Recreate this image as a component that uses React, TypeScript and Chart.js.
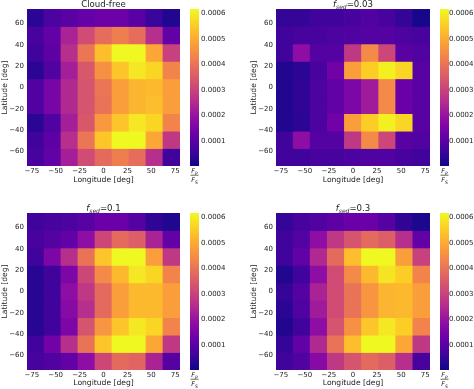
import React, { useEffect, useRef } from 'react';
import { Chart, registerables } from 'chart.js';

Chart.register(...registerables);

// Cell centres (longitude) and row edges (latitude), degrees
const lonCenters = [-71.1, -53.3, -35.6, -17.8, 0, 17.8, 35.6, 53.3, 71.1];
const latEdges = [73.6, 57.2, 40.9, 24.5, 8.2, -8.2, -24.5, -40.9, -57.2, -73.6];
const lonTicks = [-75, -50, -25, 0, 25, 50, 75];
const latTicks = [-60, -40, -20, 0, 20, 40, 60];
// colour bar, values in units of 1e-4 (F_P / F_S)
const cbTicks = [1, 2, 3, 4, 5, 6];
const cbTickLabels = ['0.0001', '0.0002', '0.0003', '0.0004', '0.0005', '0.0006'];
const cbMin = 0.015;
const cbMax = 6.18;

// Rows from top (north) to bottom (south); values ×1e-4
const cloudFree = [
  [0.37, 0.80, 0.99, 1.17, 1.30, 1.30, 0.99, 0.56, 0.25],
  [0.74, 1.11, 2.34, 3.21, 3.89, 4.20, 3.89, 2.59, 1.11],
  [0.62, 1.05, 2.59, 4.07, 5.31, 6.17, 6.17, 4.94, 2.96],
  [0.37, 0.86, 2.22, 3.46, 4.57, 5.43, 5.92, 5.68, 4.32],
  [0.86, 1.48, 2.47, 3.39, 4.07, 4.81, 5.18, 5.24, 4.81],
  [0.86, 1.48, 2.47, 3.39, 4.01, 4.81, 5.18, 5.31, 4.81],
  [0.37, 0.86, 2.22, 3.46, 4.69, 5.43, 5.92, 5.68, 4.32],
  [0.62, 1.05, 2.59, 4.07, 5.43, 6.17, 6.17, 4.94, 2.78],
  [0.74, 1.11, 2.22, 3.21, 3.83, 4.20, 3.89, 2.59, 0.62],
];
const fsed003 = [
  [0.49, 0.49, 0.62, 0.62, 0.74, 0.86, 0.74, 0.49, 0.12],
  [0.62, 0.74, 0.74, 0.80, 0.86, 0.93, 0.93, 0.80, 0.74],
  [0.62, 1.85, 0.93, 0.93, 2.78, 4.44, 3.09, 0.99, 0.86],
  [0.25, 0.37, 0.74, 1.36, 4.81, 5.55, 6.05, 5.68, 0.99],
  [0.25, 0.43, 0.80, 1.11, 1.54, 2.16, 4.44, 1.23, 0.99],
  [0.25, 0.43, 0.80, 1.11, 1.54, 2.16, 4.44, 1.23, 0.99],
  [0.25, 0.37, 0.80, 1.36, 4.81, 5.55, 6.05, 5.68, 0.99],
  [0.62, 1.85, 0.93, 0.93, 2.78, 4.44, 3.09, 0.99, 0.86],
  [0.62, 0.62, 0.74, 0.74, 0.80, 0.86, 0.86, 0.74, 0.62],
];
const fsed01 = [
  [0.62, 0.74, 0.80, 0.99, 1.23, 1.23, 0.93, 0.43, 0.25],
  [0.74, 0.93, 1.11, 1.85, 3.09, 3.83, 3.58, 2.34, 1.11],
  [0.62, 1.54, 2.59, 4.01, 5.43, 6.17, 6.17, 4.81, 2.78],
  [0.31, 0.62, 1.54, 3.09, 4.44, 5.24, 5.92, 5.68, 4.32],
  [0.31, 0.62, 1.85, 2.78, 3.83, 4.81, 5.24, 5.24, 4.81],
  [0.31, 0.62, 1.73, 2.59, 3.83, 4.81, 5.24, 5.24, 4.81],
  [0.31, 0.62, 1.54, 3.39, 4.63, 5.43, 5.92, 5.68, 4.32],
  [0.62, 1.36, 2.59, 4.01, 5.43, 6.17, 6.17, 4.94, 2.78],
  [0.74, 0.86, 1.11, 1.85, 3.09, 3.83, 3.70, 2.34, 0.93],
];
const fsed03 = [
  [0.49, 0.74, 0.86, 1.05, 1.23, 1.23, 0.93, 0.43, 0.19],
  [0.62, 0.93, 1.85, 2.78, 3.39, 3.83, 3.58, 2.59, 1.11],
  [0.62, 1.11, 2.47, 3.83, 5.31, 6.17, 6.17, 4.81, 2.96],
  [0.25, 0.62, 1.85, 3.21, 4.44, 5.24, 5.86, 5.55, 4.32],
  [0.49, 0.93, 2.34, 3.21, 4.01, 4.63, 5.18, 5.24, 4.81],
  [0.37, 0.86, 2.16, 3.21, 4.01, 4.63, 5.18, 5.24, 4.81],
  [0.25, 0.62, 1.85, 3.39, 4.57, 5.43, 5.92, 5.55, 4.32],
  [0.49, 1.11, 2.47, 4.01, 5.31, 6.17, 6.17, 4.94, 2.78],
  [0.62, 0.86, 1.73, 2.78, 3.39, 3.83, 3.58, 2.59, 0.74],
];

const plasmaStops = [
  [13, 8, 135], [65, 4, 157], [106, 0, 168], [143, 13, 164], [177, 42, 144],
  [204, 71, 120], [225, 100, 98], [242, 132, 75], [252, 166, 54], [252, 206, 37], [240, 249, 33],
];
function plasma(t: number): string {
  const c = Math.max(0, Math.min(1, t)) * 10;
  const i = Math.min(9, Math.floor(c));
  const f = c - i;
  const a = plasmaStops[i], b = plasmaStops[i + 1];
  const m = (k: number) => Math.round(a[k] + (b[k] - a[k]) * f);
  return `rgb(${m(0)},${m(1)},${m(2)})`;
}

const FONT = '"DejaVu Sans", sans-serif';
const TXT = '#222';

type PanelDef = {
  values: number[][];
  title: string;
  sub?: string;
  suffix?: string;
  left: number; top: number; w: number; h: number;
  yW: number; yTitlePad: number; cbW: number; cbPad: number;
  padTop: number; xH: number; xTitlePad: number;
};

const panels: PanelDef[] = [
  { values: cloudFree, title: 'Cloud-free', left: 0, top: 0, w: 237, h: 195, yW: 27, yTitlePad: 0, cbW: 57, cbPad: 21, padTop: 9, xH: 29, xTitlePad: 10.4 },
  { values: fsed003, title: 'f', sub: 'sed', suffix: '=0.03', left: 237, top: 0, w: 237, h: 195, yW: 39, yTitlePad: 12.4, cbW: 44, cbPad: 19, padTop: 9, xH: 29, xTitlePad: 10.4 },
  { values: fsed01, title: 'f', sub: 'sed', suffix: '=0.1', left: 0, top: 195, w: 237, h: 194, yW: 27, yTitlePad: 0, cbW: 57, cbPad: 21, padTop: 18, xH: 19, xTitlePad: 1.9 },
  { values: fsed03, title: 'f', sub: 'sed', suffix: '=0.3', left: 237, top: 195, w: 237, h: 194, yW: 39, yTitlePad: 12.4, cbW: 44, cbPad: 19, padTop: 18, xH: 19, xTitlePad: 1.9 },
];

const fmtMinus = (v: number) => (v < 0 ? '\u2212' + Math.abs(v) : String(v));

const noPad = (s: any) => {
  s.paddingTop = 0;
  s.paddingBottom = 0;
  s.paddingLeft = 0;
  s.paddingRight = 0;
};

function makeDecor(p: PanelDef) {
  return {
    id: 'decor',
    afterDraw(chart: any) {
      const { ctx, chartArea } = chart;
      const cb = chart.scales.cb;
      const x0 = chartArea.right + 10;
      const yTop = cb.getPixelForValue(cbMax);
      const yBot = cb.getPixelForValue(cbMin);
      ctx.save();
      const g = ctx.createLinearGradient(0, yBot, 0, yTop);
      plasmaStops.forEach((c, i) => g.addColorStop(i / 10, `rgb(${c[0]},${c[1]},${c[2]})`));
      ctx.fillStyle = g;
      ctx.fillRect(x0, yTop, 9, yBot - yTop);

      // F_P / F_S label under the colour bar
      ctx.fillStyle = TXT;
      ctx.strokeStyle = TXT;
      ctx.textBaseline = 'alphabetic';
      ctx.textAlign = 'left';
      const drawFS = (sub: string, base: number) => {
        ctx.font = `italic 6.5px ${FONT}`;
        const wF = ctx.measureText('F').width;
        ctx.font = `italic 4.6px ${FONT}`;
        const wS = ctx.measureText(sub).width;
        const tot = wF + wS;
        const sx = x0 + 4.5 - tot / 2;
        ctx.font = `italic 6.5px ${FONT}`;
        ctx.fillText('F', sx, base);
        ctx.font = `italic 4.6px ${FONT}`;
        ctx.fillText(sub, sx + wF, base + 1.5);
      };
      const bot = chartArea.bottom;
      drawFS('P', bot + 7);
      ctx.lineWidth = 0.7;
      ctx.beginPath();
      ctx.moveTo(x0 + 0.5, bot + 9.2);
      ctx.lineTo(x0 + 8.5, bot + 9.2);
      ctx.stroke();
      drawFS('S', bot + 16);

      // title
      const cx = (chartArea.left + chartArea.right) / 2;
      const base = chartArea.top - 2;
      ctx.fillStyle = TXT;
      if (!p.sub) {
        ctx.font = `8.6px ${FONT}`;
        ctx.textAlign = 'center';
        ctx.fillText(p.title, cx, base);
      } else {
        ctx.font = `italic 8.6px ${FONT}`;
        const w1 = ctx.measureText(p.title).width;
        ctx.font = `italic 6px ${FONT}`;
        const w2 = ctx.measureText(p.sub).width;
        ctx.font = `8.6px ${FONT}`;
        const w3 = ctx.measureText(p.suffix || '').width;
        let sx = cx - (w1 + w2 + w3) / 2;
        ctx.textAlign = 'left';
        ctx.font = `italic 8.6px ${FONT}`;
        ctx.fillText(p.title, sx, base);
        sx += w1;
        ctx.font = `italic 6px ${FONT}`;
        ctx.fillText(p.sub, sx, base + 2);
        sx += w2;
        ctx.font = `8.6px ${FONT}`;
        ctx.fillText(p.suffix || '', sx, base);
      }
      ctx.restore();
    },
  };
}

function Panel({ p }: { p: PanelDef }) {
  const ref = useRef<HTMLCanvasElement>(null);
  useEffect(() => {
    if (!ref.current) return;
    const datasets = p.values.map((row, r) => ({
      type: 'bar' as const,
      data: lonCenters.map((x) => ({ x, y: [latEdges[r + 1], latEdges[r]] })),
      backgroundColor: row.map((v) => plasma((v - cbMin) / (cbMax - cbMin))),
      borderWidth: 0,
      barPercentage: 1,
      categoryPercentage: 1,
      grouped: false,
      inflateAmount: 0.4,
      xAxisID: 'x',
      yAxisID: 'y',
    }));
    const tickFont = { family: FONT, size: 7 };
    const titleFont = { family: FONT, size: 7.6 };
    const chart = new Chart(ref.current, {
      type: 'bar',
      data: { datasets: datasets as any },
      plugins: [makeDecor(p) as any],
      options: {
        responsive: false,
        animation: false,
        devicePixelRatio: 1,
        events: [],
        layout: { autoPadding: false, padding: { left: 0, right: 0, top: p.padTop, bottom: 0 } },
        plugins: { legend: { display: false }, tooltip: { enabled: false }, title: { display: false } },
        scales: {
          x: {
            type: 'linear',
            position: 'bottom',
            min: -80,
            max: 80,
            offset: false,
            grid: { display: false, drawTicks: false },
            border: { display: false },
            afterBuildTicks: (s: any) => { s.ticks = lonTicks.map((v) => ({ value: v })); },
            afterFit: (s: any) => { s.height = p.xH; noPad(s); },
            ticks: { font: tickFont, color: TXT, padding: 1.2, autoSkip: false, maxRotation: 0, callback: (v: any) => fmtMinus(Number(v)) },
            title: { display: true, text: 'Longitude [deg]', font: titleFont, color: TXT, padding: { top: 0, bottom: p.xTitlePad } },
          },
          y: {
            type: 'linear',
            position: 'left',
            min: -73.6,
            max: 73.6,
            grid: { display: false, drawTicks: false },
            border: { display: false },
            afterBuildTicks: (s: any) => { s.ticks = latTicks.map((v) => ({ value: v })); },
            afterFit: (s: any) => { s.width = p.yW; noPad(s); },
            ticks: { font: tickFont, color: TXT, padding: 3, autoSkip: false, callback: (v: any) => fmtMinus(Number(v)) },
            title: { display: true, text: 'Latitude [deg]', font: titleFont, color: TXT, padding: { top: p.yTitlePad, bottom: 0 } },
          },
          cb: {
            type: 'linear',
            position: 'right',
            axis: 'y',
            min: cbMin,
            max: cbMax,
            grid: { display: false, drawTicks: false },
            border: { display: false },
            afterBuildTicks: (s: any) => { s.ticks = cbTicks.map((v) => ({ value: v })); },
            afterFit: (s: any) => { s.width = p.cbW; noPad(s); },
            ticks: {
              font: tickFont, color: TXT, padding: p.cbPad, autoSkip: false,
              callback: (v: any) => cbTickLabels[cbTicks.indexOf(Number(v))] ?? '',
            },
          },
        },
      } as any,
    });
    return () => chart.destroy();
  }, [p]);
  return (
    <canvas
      ref={ref}
      width={p.w}
      height={p.h}
      style={{ position: 'absolute', left: p.left, top: p.top, width: p.w, height: p.h }}
    />
  );
}

export default function App() {
  return (
    <div style={{ position: 'absolute', left: 0, top: 0, width: 474, height: 389, background: '#fff', overflow: 'hidden' }}>
      {panels.map((p, i) => (
        <Panel key={i} p={p} />
      ))}
    </div>
  );
}
